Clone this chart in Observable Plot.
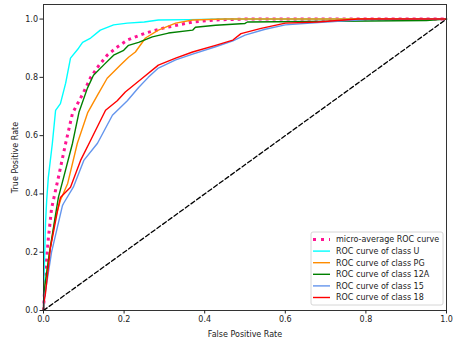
<!DOCTYPE html>
<html><head><meta charset="utf-8">
<script src="https://cdn.jsdelivr.net/npm/d3@7"></script>
<script src="https://cdn.jsdelivr.net/npm/@observablehq/plot@0.6"></script>
<style>body{margin:0;background:#fff}#chart svg{display:block}</style>
</head><body><div id="chart"></div>
<script>
// Micro-average ROC curve
const microFpr = [0, 0.005, 0.012, 0.02, 0.037, 0.055, 0.072, 0.1, 0.117, 0.137, 0.158, 0.183, 0.208, 0.253, 0.30, 0.37, 0.427, 0.5, 1];
const microTpr = [0, 0.13, 0.247, 0.35, 0.457, 0.574, 0.677, 0.75, 0.80, 0.84, 0.876, 0.904, 0.928, 0.952, 0.97, 0.99, 0.997, 1, 1];

// Class U
const fprU = [0, 0.002, 0.005, 0.008, 0.012, 0.022, 0.03, 0.042, 0.055, 0.067, 0.087, 0.097, 0.117, 0.141, 0.174, 0.208, 0.25, 0.285, 0.36, 0.45, 1];
const tprU = [0, 0.15, 0.30, 0.38, 0.457, 0.574, 0.687, 0.71, 0.78, 0.866, 0.90, 0.92, 0.935, 0.962, 0.98, 0.986, 0.99, 0.997, 0.998, 1, 1];
// Class PG
const fprPG = [0, 0.003, 0.015, 0.03, 0.042, 0.06, 0.084, 0.11, 0.134, 0.158, 0.191, 0.211, 0.228, 0.253, 0.285, 0.328, 0.37, 0.45, 1];
const tprPG = [0, 0.08, 0.2, 0.32, 0.378, 0.436, 0.574, 0.68, 0.739, 0.797, 0.842, 0.869, 0.887, 0.935, 0.962, 0.986, 0.997, 1, 1];
// Class 12A
const fpr12A = [0, 0.003, 0.015, 0.03, 0.037, 0.05, 0.072, 0.088, 0.109, 0.124, 0.149, 0.174, 0.199, 0.211, 0.236, 0.27, 0.31, 0.37, 0.377, 0.427, 0.5, 0.506, 0.95, 1];
const tpr12A = [0, 0.08, 0.2, 0.33, 0.388, 0.457, 0.574, 0.68, 0.763, 0.807, 0.842, 0.876, 0.893, 0.91, 0.92, 0.939, 0.952, 0.962, 0.972, 0.979, 0.985, 0.99, 0.995, 1];
// Class 15
const fpr15 = [0, 0.003, 0.02, 0.047, 0.05, 0.074, 0.1, 0.134, 0.171, 0.208, 0.236, 0.26, 0.285, 0.328, 0.37, 0.427, 0.47, 0.5, 0.55, 0.6, 0.7, 0.8, 1];
const tpr15 = [0, 0.05, 0.2, 0.36, 0.368, 0.423, 0.515, 0.574, 0.67, 0.72, 0.765, 0.80, 0.832, 0.86, 0.88, 0.905, 0.925, 0.945, 0.965, 0.98, 0.99, 0.998, 1];
// Class 18
const fpr18 = [0, 0, 0.005, 0.017, 0.035, 0.042, 0.067, 0.092, 0.117, 0.154, 0.183, 0.203, 0.245, 0.285, 0.328, 0.37, 0.427, 0.47, 0.49, 0.54, 0.6, 0.68, 0.78, 1];
const tpr18 = [0, 0.02, 0.06, 0.213, 0.344, 0.388, 0.423, 0.515, 0.584, 0.687, 0.72, 0.75, 0.797, 0.842, 0.866, 0.887, 0.91, 0.928, 0.95, 0.968, 0.986, 0.99, 1, 1];

// Chance diagonal
const diagFpr = [0, 1];
const diagTpr = [0, 1];

const classNames = ["U", "PG", "12A", "15", "18"];
const classColors = ["aqua", "darkorange", "green", "cornflowerblue", "red"];
const classFpr = [fprU, fprPG, fpr12A, fpr15, fpr18];
const classTpr = [tprU, tprPG, tpr12A, tpr15, tpr18];
const microLabel = "micro-average ROC curve";
const microColor = "deeppink";
const axisTicks = [0, 0.2, 0.4, 0.6, 0.8, 1.0];

const microRows = microFpr.map((f, i) => ({fpr: f, tpr: microTpr[i]}));
const classRows = classNames.flatMap((name, k) =>
  classFpr[k].map((f, i) => ({series: name, fpr: f, tpr: classTpr[k][i]})));
const diagRows = diagFpr.map((f, i) => ({fpr: f, tpr: diagTpr[i]}));

const chart = Plot.plot({
  width: 474, height: 343,
  marginLeft: 43, marginRight: 28, marginTop: 4, marginBottom: 33,
  style: {fontFamily: "DejaVu Sans", fontSize: "8px", background: "#fff", color: "#222"},
  x: {domain: [0, 1]},
  y: {domain: [0, 1.05]},
  color: {domain: classNames, range: classColors},
  marks: [
    Plot.line(microRows, {x: "fpr", y: "tpr", stroke: microColor, strokeWidth: 3, strokeDasharray: "3,4", strokeLinecap: "butt"}),
    Plot.line(classRows, {x: "fpr", y: "tpr", z: "series", stroke: "series", strokeWidth: 1.4}),
    Plot.line(diagRows, {x: "fpr", y: "tpr", stroke: "black", strokeWidth: 1.3, strokeDasharray: "4.5,2.5"}),
    Plot.frame({stroke: "#333", strokeWidth: 1}),
    Plot.axisX({ticks: axisTicks, tickFormat: d3.format(".1f"), tickSize: 3.5, tickPadding: 2, label: "False Positive Rate", labelAnchor: "center", labelArrow: "none", labelOffset: 26}),
    Plot.axisY({ticks: axisTicks, tickFormat: d3.format(".1f"), tickSize: 3.5, tickPadding: 2, label: "True Positive Rate", labelAnchor: "center", labelArrow: "none", labelOffset: 31})
  ]
});
document.getElementById("chart").appendChild(chart);

// Legend (lower right, inside the plot area)
const svg = d3.select(chart);
const entries = [{label: microLabel, color: microColor, dotted: true}]
  .concat(classNames.map((n, k) => ({label: "ROC curve of class " + n, color: classColors[k], dotted: false})));
const lg = svg.append("g").attr("font-family", "DejaVu Sans").attr("font-size", 8).attr("text-anchor", "start");
lg.append("rect").attr("x", 311).attr("y", 232).attr("width", 132).attr("height", 73)
  .attr("rx", 2).attr("fill", "white").attr("fill-opacity", 0.85).attr("stroke", "#ccc").attr("stroke-width", 0.8);
entries.forEach((e, i) => {
  const cy = 239.5 + i * 11.6;
  lg.append("line").attr("x1", 313).attr("x2", 330).attr("y1", cy).attr("y2", cy)
    .attr("stroke", e.color)
    .attr("stroke-width", e.dotted ? 3 : 1.4)
    .attr("stroke-dasharray", e.dotted ? "3,5" : null);
  lg.append("text").attr("x", 336).attr("y", cy).attr("dy", "0.35em").attr("text-anchor", "start").attr("fill", "#222").text(e.label);
});
</script>
</body></html>
